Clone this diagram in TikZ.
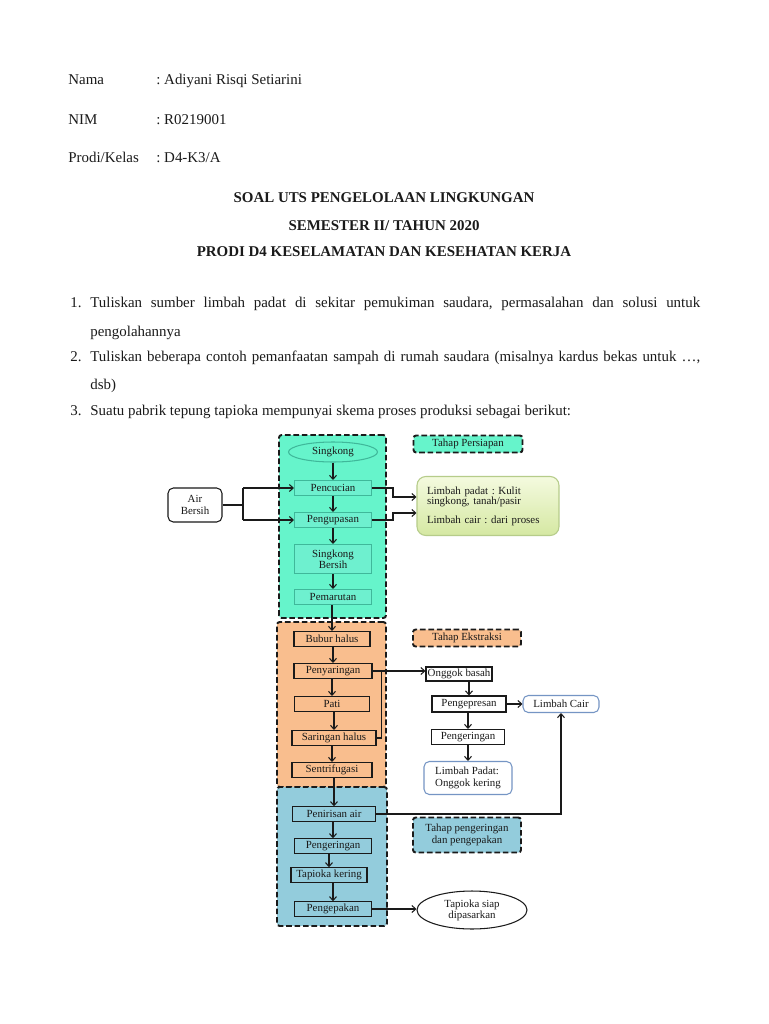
\documentclass[tikz,border=0pt]{standalone}
\usepackage{fontspec}
\setmainfont{Liberation Serif}
\frenchspacing
\usetikzlibrary{arrows.meta}
\usetikzlibrary{shapes.geometric}
\definecolor{tpink}{HTML}{1A1A1A}
\definecolor{tpgreen}{HTML}{66F4CB}
\definecolor{tpgreenbox}{HTML}{6EF0CF}
\definecolor{tpteal}{HTML}{3FB89A}
\definecolor{tporange}{HTML}{F9BE8E}
\definecolor{tpblue}{HTML}{93CCDC}
\definecolor{tpbluedraw}{HTML}{7595C4}
\definecolor{tplimetop}{HTML}{F4FADF}
\definecolor{tplimebot}{HTML}{D5E8A2}
\definecolor{tplimedraw}{HTML}{B6CC8A}
\newcommand{\tpsmall}{\fontsize{6.2}{6.4}\selectfont}
\tikzset{
  tpbody/.style={anchor=mid west, inner sep=0pt,
    font=\fontsize{8.5}{10}\selectfont, text=tpink},
  tptitle/.style={anchor=mid, inner sep=0pt,
    font=\fontsize{8.5}{10}\selectfont\bfseries, text=tpink},
  tpgroup/.style={draw=tpink, line width=1.1pt,
    dash pattern=on 3.2pt off 1.6pt, rounded corners=1.5pt, inner sep=0pt},
  tpstep/.style={draw=tpink, line width=0.6pt, inner sep=0pt,
    font=\tpsmall, text=tpink, align=center},
  tpprep/.style={tpstep, draw=tpteal, fill=tpgreenbox},
  tpextr/.style={tpstep, fill=tporange},
  tpdry/.style={tpstep, fill=tpblue},
  tpwaste/.style={tpstep, draw=tpbluedraw, fill=white, rounded corners=3pt},
  tptag/.style={tpgroup, font=\tpsmall, text=tpink, align=center},
  tparrow/.style={-{Straight Barb[length=2.2pt, width=4pt]}, draw=tpink,
    line width=0.6pt},
  tpline/.style={draw=tpink, line width=0.6pt},
}
\begin{document}
\begin{tikzpicture}[x=0.02cm, y=-0.02cm]
\fill[white] (0,0) rectangle (768,1024);
\useasboundingbox (0,0) rectangle (768,1024);

% Header.
\foreach \row/\key/\val in {%
    80/Nama/{Adiyani Risqi Setiarini},
    120/NIM/R0219001,
    158/{Prodi/Kelas}/{D4-K3/A}} {
  \node[tpbody] (hdrKey\row) at (68, \row) {\key};
  \node[tpbody] (hdrVal\row) at (156, \row) {: \val};
}
\node[tptitle] (title1) at (384, 198) {SOAL UTS PENGELOLAAN LINGKUNGAN};
\node[tptitle] (title2) at (384, 226) {SEMESTER II/ TAHUN 2020};
\node[tptitle] (title3) at (384, 252)
  {PRODI D4 KESELAMATAN DAN KESEHATAN KERJA};

% Questions.
\node[tpbody] (q1num) at (70, 303) {1.};
\node[tpbody] (q1a) at (90, 303) {\makebox[12.2cm][s]{Tuliskan sumber
  limbah padat di sekitar pemukiman saudara, permasalahan dan solusi untuk}};
\node[tpbody] (q1b) at (90, 332) {pengolahannya};
\node[tpbody] (q2num) at (70, 357) {2.};
\node[tpbody] (q2a) at (90, 357) {\makebox[12.2cm][s]{Tuliskan beberapa
  contoh pemanfaatan sampah di rumah saudara (misalnya kardus bekas untuk …,}};
\node[tpbody] (q2b) at (90, 385) {dsb)};
\node[tpbody] (q3num) at (70, 411) {3.};
\node[tpbody] (q3a) at (90, 411)
  {Suatu pabrik tepung tapioka mempunyai skema proses produksi sebagai berikut:};

% Stage containers.
\node[tpgroup, fill=tpgreen, minimum width=2.14cm, minimum height=3.66cm]
  (grpPrep) at (332.5, 526.5) {};
\node[tpgroup, fill=tporange, minimum width=2.18cm, minimum height=3.3cm]
  (grpExtr) at (331.5, 704.5) {};
\node[tpgroup, fill=tpblue, minimum width=2.2cm, minimum height=2.78cm]
  (grpDry) at (332, 856.5) {};

% Main process column.
\node[tpprep, ellipse, fill=tpgreen, minimum width=1.78cm,
      minimum height=0.4cm] (singkong) at (333, 452) {Singkong};
\foreach \name/\y/\w/\h/\txt in {%
    cuci/488/1.54/0.3/Pencucian,
    kupas/520/1.54/0.3/Pengupasan,
    bersih/559/1.54/0.58/{Singkong\\Bersih},
    parut/597/1.54/0.3/Pemarutan} {
  \node[tpprep, minimum width=\w cm, minimum height=\h cm]
    (\name) at (333, \y) {\txt};
}
\foreach \name/\x/\y/\w/\txt in {%
    bubur/332/639/1.52/{Bubur halus},
    saring/333/671/1.56/Penyaringan,
    pati/332/704/1.5/Pati,
    saringHalus/334/738/1.68/{Saringan halus},
    sentri/332/770/1.6/Sentrifugasi} {
  \node[tpextr, minimum width=\w cm, minimum height=0.3cm]
    (\name) at (\x, \y) {\txt};
}
\foreach \name/\x/\y/\w/\txt in {%
    tiris/334/814/1.66/{Penirisan air},
    keringA/333/846/1.54/Pengeringan,
    tapKering/329/875/1.52/{Tapioka kering},
    pak/333/909/1.54/Pengepakan} {
  \node[tpdry, minimum width=\w cm, minimum height=0.29cm]
    (\name) at (\x, \y) {\txt};
}
\foreach \a/\b in {singkong/cuci, cuci/kupas, kupas/bersih, bersih/parut,
    parut/bubur, bubur/saring, saring/pati, pati/saringHalus,
    saringHalus/sentri, sentri/tiris, tiris/keringA, keringA/tapKering,
    tapKering/pak} {
  \draw[tparrow] (\b.north |- \a.south) -- (\b.north);
}

% Clean water feed.
\node[tpstep, rounded corners=3pt, fill=white, minimum width=1.08cm,
      minimum height=0.68cm] (air) at (195, 505) {Air\\Bersih};
\coordinate (airBar) at (243, 505);
\draw[tpline] (air.east) -- (airBar);
\draw[tpline, line width=1.2pt] (airBar |- cuci) -- (airBar |- kupas);
\draw[tparrow] (airBar |- cuci) -- (cuci.west);
\draw[tparrow] (airBar |- kupas) -- (kupas.west);

% Stage tags.
\node[tptag, fill=tpgreen, minimum width=2.18cm, minimum height=0.34cm]
  (tagPrep) at (468, 444) {Tahap Persiapan};
\node[tptag, fill=tporange, minimum width=2.16cm, minimum height=0.34cm]
  (tagExtr) at (467, 638) {Tahap Ekstraksi};
\node[tptag, fill=tpblue, minimum width=2.16cm, minimum height=0.7cm]
  (tagDry) at (467, 835) {Tahap pengeringan\\dan pengepakan};

% Preparation waste.
\node[draw=tplimedraw, top color=tplimetop, bottom color=tplimebot,
      rounded corners=5pt, line width=0.6pt, minimum height=1.18cm,
      inner xsep=0.2cm, text width=2.44cm, align=left, text=tpink,
      font=\fontsize{6.2}{5.7}\selectfont]
  (wastePrep) at (488, 506)
  {Limbah padat : Kulit\\singkong, tanah/pasir\\[5pt]Limbah cair : dari proses};
\draw[tparrow] (cuci.east) -- ++(21, 0) |- ([yshift=0.18cm]wastePrep.west);
\draw[tparrow] (kupas.east) -- ++(21, 0) |- ([yshift=-0.14cm]wastePrep.west);

% Pulp branch.
\node[tpstep, fill=white, minimum width=1.32cm, minimum height=0.28cm]
  (onggok) at (459, 674) {Onggok basah};
\node[tpstep, fill=white, minimum width=1.48cm, minimum height=0.32cm]
  (press) at (469, 704) {Pengepresan};
\node[tpstep, fill=white, minimum width=1.46cm, minimum height=0.3cm]
  (keringB) at (468, 737) {Pengeringan};
\node[tpwaste, minimum width=1.52cm, minimum height=0.34cm]
  (limbahCair) at (561, 704) {Limbah Cair};
\node[tpwaste, minimum width=1.76cm, minimum height=0.66cm, align=left]
  (limbahPadat) at (468, 778) {Limbah Padat:\\Onggok kering};
\draw[tparrow] (saring.east) -- (saring.east -| onggok.west);
\draw[tpline] ([xshift=0.18cm]saring.east) |- (saringHalus.east);
\draw[tparrow] (press.north |- onggok.south) -- (press.north);
\draw[tparrow] (press.east) -- (limbahCair.west);
\draw[tparrow] (keringB.north |- press.south) -- (keringB.north);
\draw[tparrow] (keringB.south) -- (keringB.south |- limbahPadat.north);
\draw[tparrow] (tiris.east) -| (limbahCair.south);

% Product.
\node[tpstep, ellipse, fill=white, minimum width=2.2cm, minimum height=0.76cm]
  (siap) at (472, 910) {Tapioka siap\\dipasarkan};
\draw[tparrow] (pak.east) -- (pak.east -| siap.west);

\end{tikzpicture}
\end{document}
